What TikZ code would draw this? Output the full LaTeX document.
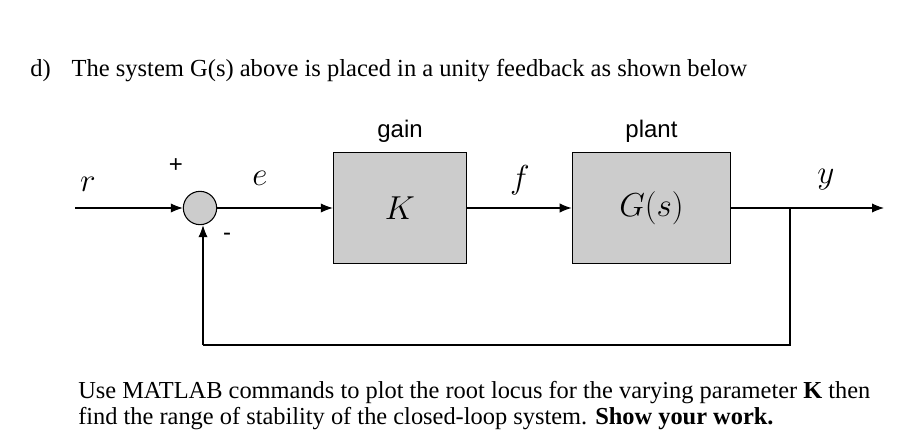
\documentclass[tikz,border=0pt]{standalone}
\usepackage{fontspec}
\setmainfont{Liberation Serif}
\newfontfamily\labelfont{Liberation Sans}
\usetikzlibrary{arrows.meta}
\tikzset{
  blk/.style={draw, thick, fill=black!20, minimum width=100pt, minimum height=83pt, inner sep=0pt},
  sig/.style={thick, -{Latex[length=9pt,width=7pt]}},
  lbl/.style={font=\labelfont\fontsize{18}{18}\selectfont},
  var/.style={font=\fontsize{23}{23}\selectfont}
}
\begin{document}
\begin{tikzpicture}[x=0.75pt,y=-0.75pt]
  \useasboundingbox[fill=white] (0,0) rectangle (922,446);
  % question text
  \node[anchor=base west, inner sep=0pt, font=\fontsize{18.4}{18.4}\selectfont] (q) at (30,76) {d)\hspace{0.6em} The system G(s) above is placed in a unity feedback as shown below};

  % blocks
  \node[circle, draw, thick, fill=black!20, minimum size=25pt, inner sep=0pt] (sum) at (200,208) {};
  \node[blk] (gain) at (400,208) {\fontsize{28}{28}\selectfont$K$};
  \node[blk, minimum width=119pt] (plant) at (651.5,208) {\fontsize{28}{28}\selectfont$G(s)$};
  \node[lbl, above=4pt] (gainlbl) at (gain.north) {gain};
  \node[lbl, above=4pt] (plantlbl) at (plant.north) {plant};

  \coordinate (in) at (75,208);
  \coordinate (out) at (884,208);
  \coordinate (tap) at (790,208);
  \coordinate (fb1) at (790,345);
  \coordinate (fb2) at (203,345);

  % signals
  \draw[sig] (in) -- (sum);
  \draw[sig] (sum) -- (gain);
  \draw[sig] (gain) -- (plant);
  \draw[sig] (plant) -- (out);
  \draw[thick] (tap) -- (fb1) -- (fb2);
  \draw[sig] (fb2) -- (fb2 |- sum.south);

  % signal labels
  \node[var] (r) at (88,184) {$r$};
  \node[lbl] (plus) at (176,166) {+};
  \node[var] (e) at (260,178) {$e$};
  \node[lbl] (minus) at (227,237) {-};
  \node[var] (f) at (520,180) {$f$};
  \node[var] (y) at (826,180) {$y$};

  % task text
  \node[anchor=base west, inner sep=0pt, font=\fontsize{18.3}{18.3}\selectfont] (task) at (78,398)
    {Use MATLAB commands to plot the root locus for the varying parameter \textbf{K} then};
  \node[anchor=base west, inner sep=0pt, font=\fontsize{18.3}{18.3}\selectfont] (task2) at (78,424)
    {find the range of stability of the closed-loop system. \textbf{Show your work.}};
\end{tikzpicture}
\end{document}
